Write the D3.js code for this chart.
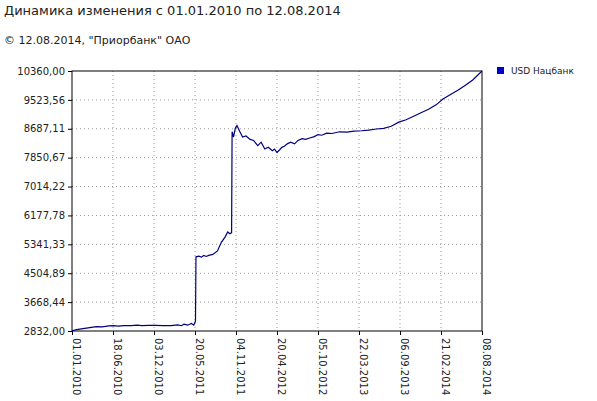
<!DOCTYPE html><html><head><meta charset="utf-8"><script src="https://d3js.org/d3.v7.min.js"></script>
<style>body{margin:0;background:#fff}text{font-family:"DejaVu Sans",Verdana,sans-serif}</style></head><body><svg width="597" height="401"></svg>
<script>
const yTicks=[2832.00,3668.44,4504.89,5341.33,6177.78,7014.22,7850.67,8687.11,9523.56,10360.00];
const xTickLabels=["01.01.2010","18.06.2010","03.12.2010","20.05.2011","04.11.2011","20.04.2012","05.10.2012","22.03.2013","06.09.2013","21.02.2014","08.08.2014"];
const dates=["2010-01-01","2010-01-20","2010-02-15","2010-03-15","2010-04-10","2010-05-05","2010-06-01","2010-06-20","2010-07-10","2010-08-01","2010-09-01","2010-09-25","2010-10-15","2010-11-10","2010-12-10","2011-01-10","2011-02-10","2011-03-10","2011-03-25","2011-04-05","2011-04-20","2011-05-05","2011-05-15","2011-05-22","2011-05-24","2011-06-05","2011-06-15","2011-06-25","2011-07-05","2011-07-15","2011-08-01","2011-08-20","2011-09-05","2011-09-20","2011-10-01","2011-10-10","2011-10-17","2011-10-19","2011-10-25","2011-11-01","2011-11-08","2011-11-20","2011-12-01","2011-12-15","2012-01-01","2012-01-15","2012-02-01","2012-02-15","2012-03-01","2012-03-15","2012-04-01","2012-04-10","2012-04-20","2012-05-01","2012-05-10","2012-05-20","2012-06-01","2012-06-15","2012-07-01","2012-07-15","2012-08-01","2012-08-15","2012-09-01","2012-09-20","2012-10-05","2012-10-20","2012-11-10","2012-12-01","2013-01-01","2013-02-01","2013-03-01","2013-04-01","2013-05-01","2013-06-01","2013-07-01","2013-08-01","2013-09-01","2013-10-01","2013-11-01","2013-12-01","2014-01-01","2014-02-01","2014-03-01","2014-04-01","2014-05-01","2014-06-01","2014-07-01","2014-08-08"];
const values=[2840,2870,2900,2930,2960,2950,2980,2990,2975,2990,2985,3000,2985,2995,2995,2990,2990,3010,2985,3030,3000,3050,3000,3120,4980,5000,4970,5020,4990,5020,5050,5150,5400,5550,5700,5650,5680,8600,8450,8700,8780,8600,8450,8480,8380,8350,8200,8300,8100,8150,8050,8100,8000,8080,8150,8180,8250,8300,8250,8350,8400,8380,8420,8460,8520,8500,8560,8550,8600,8590,8620,8630,8650,8680,8700,8760,8880,8950,9050,9150,9250,9380,9550,9680,9800,9950,10100,10360];
const svg=d3.select("svg");
const L=72,R=482,T=71,B=331;
const x=d3.scaleTime().domain([new Date("2010-01-01"),new Date("2014-08-08")]).range([L,R]);
const y=d3.scaleLinear().domain([2832,10360]).range([B,T]);
const pd=d3.timeParse("%d.%m.%Y");
const xt=xTickLabels.map(pd);
svg.append("text").attr("x",4).attr("y",15).attr("font-size",13).attr("fill","#222").text("Динамика изменения с 01.01.2010 по 12.08.2014");
svg.append("text").attr("x",4).attr("y",44).attr("font-size",11).attr("fill","#222").text("© 12.08.2014, \"Приорбанк\" ОАО");
const g=svg.append("g");
g.selectAll(".hg").data(yTicks.slice(1,-1)).join("line").attr("x1",L).attr("x2",R).attr("y1",d=>y(d)).attr("y2",d=>y(d)).attr("stroke","#999").attr("stroke-dasharray","1,3");
g.selectAll(".vg").data(xt.slice(1,-1)).join("line").attr("y1",T).attr("y2",B).attr("x1",d=>x(d)).attr("x2",d=>x(d)).attr("stroke","#999").attr("stroke-dasharray","1,3");
g.append("rect").attr("x",L).attr("y",T).attr("width",R-L).attr("height",B-T).attr("fill","none").attr("stroke","#000");
const ya=svg.append("g").attr("transform",`translate(${L},0)`).call(d3.axisLeft(y).tickValues(yTicks).tickSize(4).tickFormat(d=>d3.format(".2f")(d).replace(".",",")));
ya.select(".domain").remove();
ya.selectAll("text").attr("font-size",10).attr("fill","#222").attr("font-family","DejaVu Sans");
const xa=svg.append("g").attr("transform",`translate(0,${B})`).call(d3.axisBottom(x).tickValues(xt).tickSize(4).tickFormat(d3.timeFormat("%d.%m.%Y")));
xa.select(".domain").remove();
xa.selectAll("text").attr("font-size",10).attr("fill","#222").attr("font-family","DejaVu Sans").attr("transform","rotate(90)").attr("text-anchor","start").attr("x",7).attr("y",-4).attr("dy","0.35em");
const data=dates.map((d,i)=>({d:new Date(d),v:values[i]}));
svg.append("path").datum(data).attr("fill","none").attr("stroke","#000080").attr("stroke-width",1.2).attr("d",d3.line().x(d=>x(d.d)).y(d=>y(d.v)));
svg.append("rect").attr("x",497).attr("y",67).attr("width",7).attr("height",7).attr("fill","#0000cc");
svg.append("text").attr("x",511).attr("y",74).attr("font-size",9).attr("fill","#222").text("USD Нацбанк");
</script></body></html>
